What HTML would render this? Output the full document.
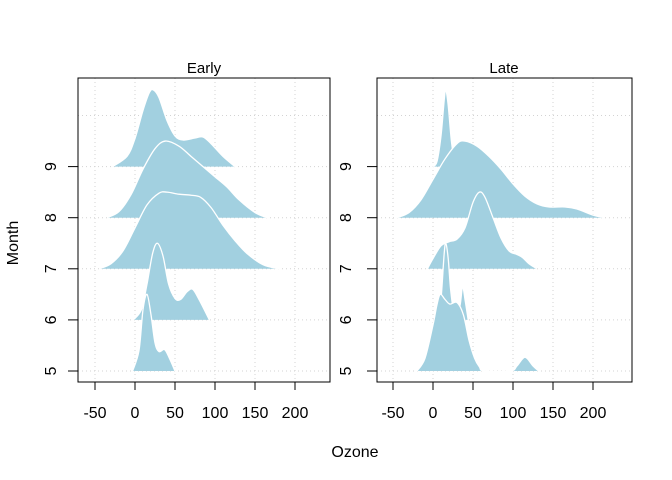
<!DOCTYPE html>
<html><head><meta charset="utf-8"><style>
body{margin:0;background:#fff}
svg{display:block;font-family:"Liberation Sans",Arial,sans-serif}
</style></head><body>
<svg id="chart" width="672" height="480" viewBox="0 0 672 480">
<g id="g"></g>
</svg>
<script>
const months=[5,6,7,8,9];
const xTicks=[-50,0,50,100,150,200];
const panelTitles=["Early","Late"];
// density curves: [ozone, height in month units]
const early5=[[-3,0],[5,0.4],[10,1.2],[15,1.5],[20,1.1],[25,0.55],[30,0.38],[37,0.42],[43,0.25],[50,0]];
const early6=[[-2,0],[8,0.2],[15,0.7],[22,1.3],[28,1.5],[35,1.25],[42,0.7],[50,0.42],[57,0.4],[65,0.55],[72,0.6],[80,0.4],[93,0]];
const early7=[[-45,0],[-30,0.1],[-15,0.35],[0,0.8],[15,1.25],[30,1.48],[40,1.5],[55,1.46],[70,1.44],[82,1.4],[95,1.2],[110,0.85],[125,0.55],[140,0.3],[160,0.08],[180,0]];
const early8=[[-35,0],[-20,0.12],[-5,0.45],[10,0.95],[25,1.35],[38,1.5],[55,1.4],[70,1.2],[85,1.0],[100,0.8],[115,0.6],[130,0.35],[150,0.1],[165,0]];
const early9=[[-28,0],[-10,0.2],[0,0.55],[10,1.1],[18,1.45],[23,1.5],[30,1.35],[40,0.9],[50,0.6],[60,0.52],[75,0.56],[85,0.58],[95,0.45],[110,0.2],[125,0]];
const late5=[[-20,0],[-10,0.25],[0,0.9],[5,1.3],[9,1.5],[15,1.4],[21,1.31],[30,1.34],[38,1.1],[45,0.6],[52,0.25],[58,0.08],[64,0],[97,0],[105,0.1],[115,0.27],[125,0.1],[132,0]];
const late6=[[8,0],[11,0.6],[14,1.3],[16,1.5],[19,1.2],[22,0.6],[26,0.15],[30,0.1],[34,0.3],[37,0.65],[40,0.4],[44,0]];
const late7=[[-7,0],[0,0.2],[10,0.45],[20,0.53],[30,0.58],[40,0.8],[50,1.3],[58,1.5],[65,1.4],[75,1.0],[85,0.6],[95,0.35],[105,0.28],[112,0.22],[120,0.1],[130,0]];
const late8=[[-45,0],[-30,0.1],[-15,0.35],[0,0.75],[15,1.15],[30,1.45],[40,1.5],[55,1.4],[70,1.2],[85,0.95],[100,0.66],[115,0.42],[130,0.27],[145,0.21],[165,0.21],[180,0.17],[200,0.05],[215,0]];
const late9=[[0,0],[5,0.1],[10,0.6],[14,1.3],[16,1.5],[19,1.2],[23,0.5],[27,0.1],[30,0]];
const earlyCurves=[early5,early6,early7,early8,early9];
const lateCurves=[late5,late6,late7,late8,late9];

const NS="http://www.w3.org/2000/svg";
const g=document.getElementById('g');
function el(t,a,p){const e=document.createElementNS(NS,t);for(const k in a)e.setAttribute(k,a[k]);(p||g).appendChild(e);return e;}
const yTop=78,yBot=382;
function yS(m){return 371-(m-5)*51.1;}
const panels=[{x0:135,l:78,r:330,curves:earlyCurves,tx:204,lab:50},{x0:433,l:377,r:632,curves:lateCurves,tx:504,lab:345}];
panels.forEach((p,pi)=>{
  const xS=v=>p.x0+v*0.8;
  const pg=el('g',{});
  
  
  xTicks.forEach(t=>{const l=el('line',{x1:xS(t),x2:xS(t),y1:yTop,y2:yBot,stroke:'#d3d3d3','stroke-dasharray':'1,3'},pg);
    });
  months.concat([10]).forEach(m=>{const l=el('line',{x1:p.l,x2:p.r,y1:yS(m),y2:yS(m),stroke:'#d3d3d3','stroke-dasharray':'1,3'},pg);
    });
  for(let i=months.length-1;i>=0;i--){
    const pts=p.curves[i].map(d=>[xS(d[0]),yS(months[i])-d[1]*51.1]);
    let d='M'+pts[0][0]+','+pts[0][1];
    for(let k=0;k<pts.length-1;k++){
      const a=pts[Math.max(k-1,0)],b=pts[k],c=pts[k+1],e=pts[Math.min(k+2,pts.length-1)];
      d+=' C'+(b[0]+(c[0]-a[0])/6)+','+(b[1]+(c[1]-a[1])/6)+' '+(c[0]-(e[0]-b[0])/6)+','+(c[1]-(e[1]-b[1])/6)+' '+c[0]+','+c[1];
    }
    const f=el('path',{d:d+' Z',fill:'#a2d0e0',stroke:'none'},pg);
    
    
    const s=el('path',{d:d,fill:'none',stroke:'#fff','stroke-width':1.3},pg);
    
    
  }
  const b=el('rect',{x:p.l,y:yTop,width:p.r-p.l,height:yBot-yTop,fill:'none',stroke:'#000','stroke-width':1},pg);
  
  const tt=el('text',{x:p.tx,y:73,'text-anchor':'middle','font-size':15},pg);tt.textContent=panelTitles[pi];
  
  el('line',{x1:xS(-50),x2:xS(200),y1:yBot,y2:yBot,stroke:'#000'},pg);
  xTicks.forEach(t=>{el('line',{x1:xS(t),x2:xS(t),y1:yBot,y2:yBot+8,stroke:'#000'},pg);
    const tl=el('text',{x:xS(t),y:418,'text-anchor':'middle','font-size':16},pg);tl.textContent=t;
    });
  months.forEach(m=>{el('line',{x1:p.l-10,x2:p.l,y1:yS(m),y2:yS(m),stroke:'#000'},pg);
    const tl=el('text',{x:p.lab+6,y:yS(m),'text-anchor':'middle','font-size':16,transform:'rotate(-90 '+(p.lab+6)+' '+yS(m)+')'},pg);tl.textContent=m;
    });
});
const xt=el('text',{x:355,y:457,'text-anchor':'middle','font-size':16});xt.textContent='Ozone';

const yt=el('text',{x:18,y:243,'text-anchor':'middle','font-size':16,transform:'rotate(-90 18 243)'});yt.textContent='Month';

</script>
</body></html>
